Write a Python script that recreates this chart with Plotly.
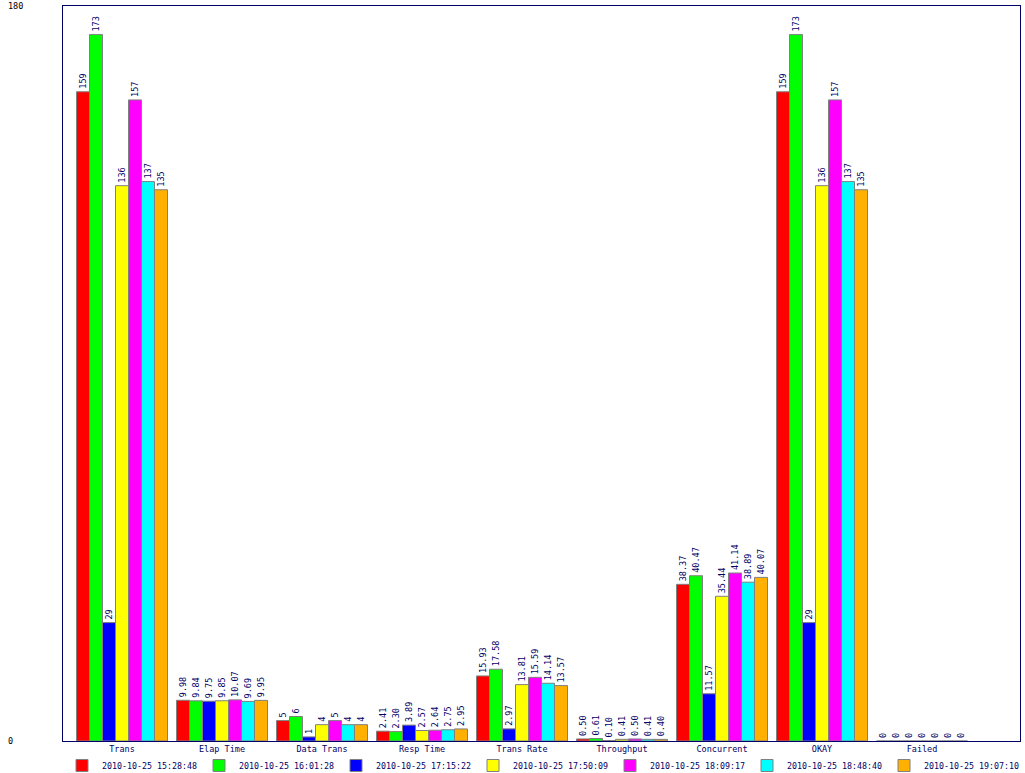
import plotly.graph_objs as go

# categories on the x axis
categories = ["Trans", "Elap Time", "Data Trans", "Resp Time", "Trans Rate",
              "Throughput", "Concurrent", "OKAY", "Failed"]

# one run per series (legend names)
run_names = ["2010-10-25 15:28:48", "2010-10-25 16:01:28", "2010-10-25 17:15:22",
             "2010-10-25 17:50:09", "2010-10-25 18:09:17", "2010-10-25 18:48:40",
             "2010-10-25 19:07:10"]

run_1 = [159, 9.98, 5, 2.41, 15.93, 0.50, 38.37, 159, 0]
run_2 = [173, 9.84, 6, 2.30, 17.58, 0.61, 40.47, 173, 0]
run_3 = [29, 9.75, 1, 3.89, 2.97, 0.10, 11.57, 29, 0]
run_4 = [136, 9.85, 4, 2.57, 13.81, 0.41, 35.44, 136, 0]
run_5 = [157, 10.07, 5, 2.64, 15.59, 0.50, 41.14, 157, 0]
run_6 = [137, 9.69, 4, 2.75, 14.14, 0.41, 38.89, 137, 0]
run_7 = [135, 9.95, 4, 2.95, 13.57, 0.40, 40.07, 135, 0]

# labels as printed on the bars (integers for counts, 2 decimals otherwise)
integer_rows = ["Trans", "Data Trans", "OKAY", "Failed"]

# y axis ticks
y_ticks = [0, 180]

colors = ["#ff0000", "#00ff00", "#0000ff", "#ffff00", "#ff00ff", "#00ffff", "#ffb000"]

navy = "#000066"
mono = "DejaVu Sans Mono"
fsize = 8.5


def fmt(cat, v):
    if cat in integer_rows:
        return "%d" % v
    return "%.2f" % v


data = []
for name, vals, col in zip(run_names, [run_1, run_2, run_3, run_4, run_5, run_6, run_7], colors):
    data.append(go.Bar(x=categories, y=vals, name=name,
                       marker=dict(color=col, line=dict(color="#808080", width=1)),
                       text=[fmt(c, v) for c, v in zip(categories, vals)],
                       textposition="outside", textangle=-90, constraintext="none",
                       textfont=dict(family=mono, size=fsize, color=navy),
                       cliponaxis=False))

# pad the short tick label so both labels start at the same x (left aligned look)
width = max(len(str(t)) for t in y_ticks)
y_ticktext = [str(t) + "\u00a0" * (width - len(str(t))) for t in y_ticks]

mylayout = go.Layout(
    width=1025, height=773,
    barmode="group", bargap=0.09, bargroupgap=0,
    plot_bgcolor="white", paper_bgcolor="white",
    margin=dict(l=63, r=5, t=6, b=32, autoexpand=False),
    font=dict(family=mono, size=fsize, color=navy),
    xaxis=dict(range=[-0.59, 8.98], showline=True, mirror=True, linecolor=navy,
               linewidth=1, ticks="", showgrid=False,
               tickfont=dict(family=mono, size=fsize, color=navy)),
    yaxis=dict(range=[0, 180], tickvals=y_ticks, ticktext=y_ticktext,
               showline=True, mirror=True,
               linecolor=navy, linewidth=1, showgrid=False, zeroline=False,
               ticks="", ticklabelstandoff=37,
               tickfont=dict(family=mono, size=fsize, color="black")),
    legend=dict(orientation="h", x=0.5, xanchor="center", y=-0.0136, yanchor="top",
                bgcolor="rgba(0,0,0,0)",
                font=dict(family=mono, size=8.3, color=navy),
                itemwidth=30, entrywidth=92, entrywidthmode="pixels",
                tracegroupgap=0),
    showlegend=True,
)

fig = go.Figure(data=data, layout=mylayout)
# drop the default page margin so the figure sits at the window corner
fig.write_html("out.html", config={"displayModeBar": False},
               post_script="document.body.style.margin = '0';")
